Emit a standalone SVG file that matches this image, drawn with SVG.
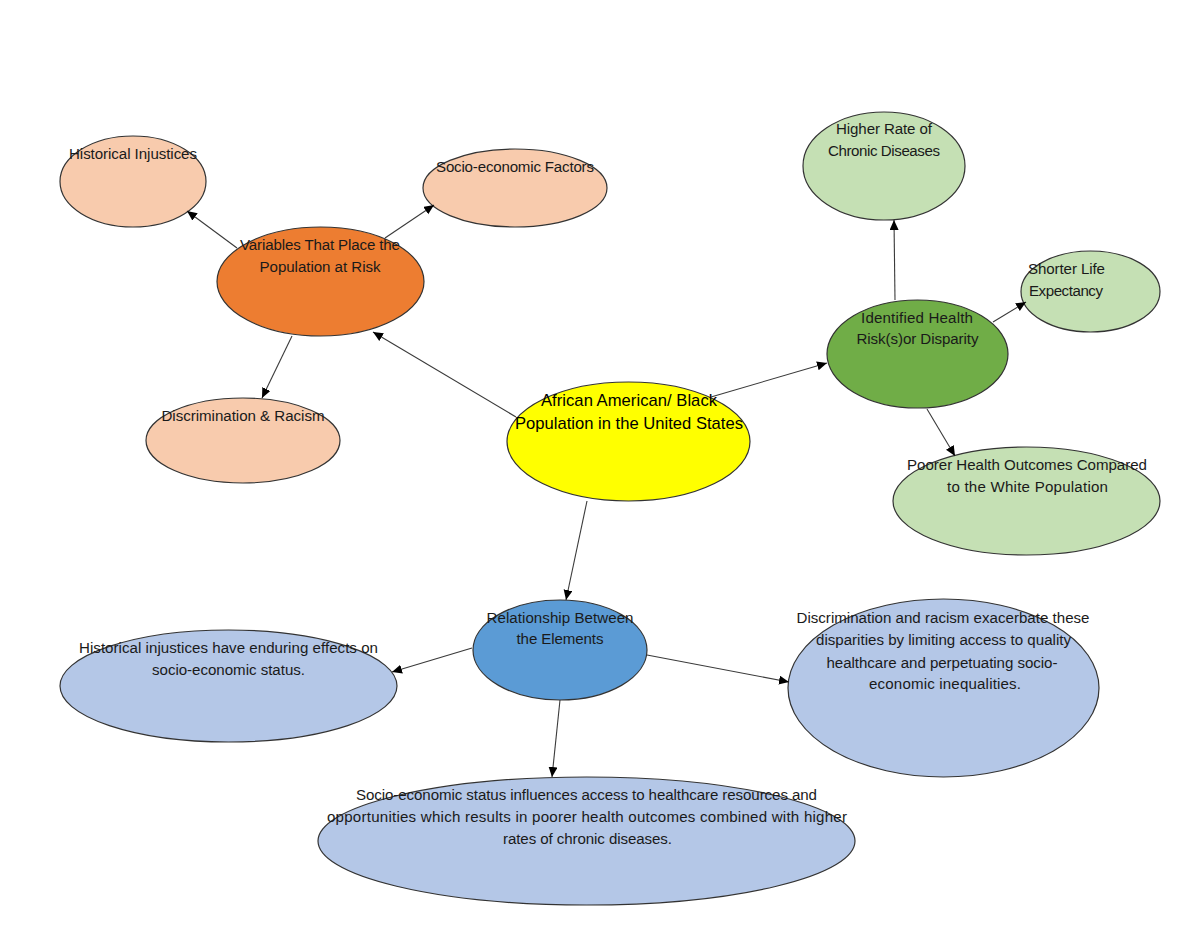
<svg xmlns="http://www.w3.org/2000/svg" width="1200" height="927" viewBox="0 0 1200 927">
<style>
  .n { stroke: #333333; stroke-width: 1.2; }
  .peach { fill: #F8CBAD; }
  .orange { fill: #ED7D31; }
  .yellow { fill: #FFFF00; }
  .dgreen { fill: #70AD47; }
  .lgreen { fill: #C5E0B4; }
  .blue { fill: #5B9BD5; }
  .lblue { fill: #B4C7E7; }
  text { font-family: "Liberation Sans", Arial, sans-serif; font-size: 15.1px; fill: #1a1a1a; text-anchor: middle; }
  .big { font-size: 16.6px; fill: #000000; }
  .edge { stroke: #3a3a3a; stroke-width: 1.1; fill: none; marker-end: url(#arr); }
</style>
<defs>
  <marker id="arr" markerUnits="userSpaceOnUse" markerWidth="11" markerHeight="10" refX="10" refY="4.5" orient="auto">
    <path d="M0,0 L10,4.5 L0,9 z" fill="#000000"/>
  </marker>
</defs>
<rect width="1200" height="927" fill="#ffffff"/>

<g id="nodes">
  <g id="n-historical">
    <ellipse class="n peach" cx="133" cy="181.5" rx="73" ry="45.5"/>
    <text x="133" y="159" textLength="128">Historical Injustices</text>
  </g>
  <g id="n-socio">
    <ellipse class="n peach" cx="515" cy="188" rx="92" ry="39"/>
    <text x="515" y="172" textLength="158">Socio-economic Factors</text>
  </g>
  <g id="n-variables">
    <ellipse class="n orange" cx="320.5" cy="281.5" rx="103.5" ry="54.5"/>
    <text x="320" y="250" textLength="160">Variables That Place the</text>
    <text x="320" y="272" textLength="121">Population at Risk</text>
  </g>
  <g id="n-discrimination">
    <ellipse class="n peach" cx="243" cy="440.5" rx="97" ry="42.5"/>
    <text x="243" y="421" textLength="163">Discrimination &amp; Racism</text>
  </g>
  <g id="n-center">
    <ellipse class="n yellow" cx="628.5" cy="441.5" rx="121.5" ry="59.5"/>
    <text class="big" x="629" y="406" textLength="176">African American/ Black</text>
    <text class="big" x="629" y="429" textLength="228">Population in the United States</text>
  </g>
  <g id="n-higher">
    <ellipse class="n lgreen" cx="884" cy="166" rx="81" ry="54"/>
    <text x="884" y="134" textLength="96">Higher Rate of</text>
    <text x="884" y="156" textLength="112">Chronic Diseases</text>
  </g>
  <g id="n-shorter">
    <ellipse class="n lgreen" cx="1090.5" cy="291.5" rx="69.5" ry="40.5"/>
    <text x="1066.5" y="274" textLength="77">Shorter Life</text>
    <text x="1066" y="296" textLength="74">Expectancy</text>
  </g>
  <g id="n-identified">
    <ellipse class="n dgreen" cx="917.5" cy="354" rx="90.5" ry="54"/>
    <text x="917" y="323" textLength="112">Identified Health</text>
    <text x="917.5" y="344" textLength="122">Risk(s)or Disparity</text>
  </g>
  <g id="n-poorer">
    <ellipse class="n lgreen" cx="1026.5" cy="501" rx="133.5" ry="54"/>
    <text x="1027" y="470" textLength="240">Poorer Health Outcomes Compared</text>
    <text x="1027.5" y="492" textLength="161">to the White Population</text>
  </g>
  <g id="n-relationship">
    <ellipse class="n blue" cx="560" cy="650" rx="87" ry="50"/>
    <text x="560" y="623" textLength="147">Relationship Between</text>
    <text x="560" y="644" textLength="87">the Elements</text>
  </g>
  <g id="n-rel-left">
    <ellipse class="n lblue" cx="228.5" cy="686" rx="168.5" ry="56"/>
    <text x="228.5" y="653" textLength="299">Historical injustices have enduring effects on</text>
    <text x="228.5" y="675" textLength="153">socio-economic status.</text>
  </g>
  <g id="n-rel-right">
    <ellipse class="n lblue" cx="943.5" cy="688" rx="155.5" ry="89"/>
    <text x="943" y="623" textLength="293">Discrimination and racism exacerbate these</text>
    <text x="943.5" y="645" textLength="255">disparities by limiting access to quality</text>
    <text x="942" y="668" textLength="231">healthcare and perpetuating socio-</text>
    <text x="945" y="689" textLength="152">economic inequalities.</text>
  </g>
  <g id="n-rel-bottom">
    <ellipse class="n lblue" cx="586.5" cy="841" rx="268.5" ry="64"/>
    <text x="586.5" y="800" textLength="461">Socio-economic status influences access to healthcare resources and</text>
    <text x="587" y="822" textLength="520">opportunities which results in poorer health outcomes combined with higher</text>
    <text x="587.5" y="844" textLength="169">rates of chronic diseases.</text>
  </g>
</g>

<g id="connectors">
  <line class="edge" x1="516" y1="417" x2="373" y2="332"/>
  <line class="edge" x1="711" y1="397" x2="827" y2="363"/>
  <line class="edge" x1="587" y1="501" x2="566" y2="600"/>
  <line class="edge" x1="237" y1="248" x2="187" y2="211"/>
  <line class="edge" x1="385" y1="238" x2="434" y2="205"/>
  <line class="edge" x1="292" y1="336" x2="262" y2="398"/>
  <line class="edge" x1="895" y1="300" x2="894" y2="220"/>
  <line class="edge" x1="993" y1="322" x2="1026" y2="302"/>
  <line class="edge" x1="927" y1="409" x2="955" y2="456"/>
  <line class="edge" x1="472" y1="648" x2="392" y2="672"/>
  <line class="edge" x1="647" y1="655" x2="789" y2="682"/>
  <line class="edge" x1="560" y1="700" x2="552" y2="777"/>
</g>
</svg>
